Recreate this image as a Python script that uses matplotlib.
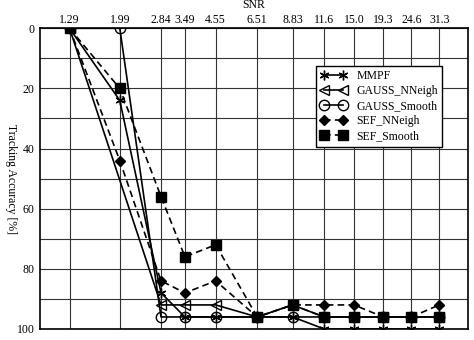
import numpy as np
import matplotlib.pyplot as plt

plt.rcParams['font.family'] = ['Liberation Serif', 'DejaVu Serif']

snr = [1.29, 1.99, 2.84, 3.49, 4.55, 6.51, 8.83, 11.6, 15.0, 19.3, 24.6, 31.3]
snr_labels = ['1.29', '1.99', '2.84', '3.49', '4.55', '6.51', '8.83',
              '11.6', '15.0', '19.3', '24.6', '31.3']

mmpf = [0, 24, 88, 96, 96, 96, 96, 100, 100, 100, 100, 100]
gauss_nneigh = [0, np.nan, 92, 92, 92, 96, 92, 96, 96, 96, 96, 96]
gauss_smooth = [0, 0, 96, 96, 96, 96, 96, 96, 96, 96, 96, 96]
sef_nneigh = [0, 44, 84, 88, 84, 96, 92, 92, 92, 96, 96, 92]
sef_smooth = [0, 20, 56, 76, 72, 96, 92, 96, 96, 96, 96, 96]

series = [
    ("MMPF", mmpf, dict(ls='-', marker=(6, 2, 0), ms=7, mfc='k')),
    ("GAUSS_NNeigh", gauss_nneigh, dict(ls='-', marker='<', ms=6.5, mfc='none')),
    ("GAUSS_Smooth", gauss_smooth, dict(ls='-', marker='o', ms=7.5, mfc='none')),
    ("SEF_NNeigh", sef_nneigh, dict(ls=(0, (4, 2.5)), marker='D', ms=5.5, mfc='k')),
    ("SEF_Smooth", sef_smooth, dict(ls=(0, (4, 2.5)), marker='s', ms=6.5, mfc='k')),
]

fig = plt.figure(figsize=(4.74, 3.40), dpi=100)
ax = fig.add_axes([0.0844, 0.0324, 0.9030, 0.8844])

x = np.array(snr)
for name, vals, style in series:
    y = np.array(vals, dtype=float)
    ok = ~np.isnan(y)
    ax.plot(x[ok], y[ok], color='k', lw=1.2, mec='k', mew=1.0,
            label=name, **style)

ax.set_xscale('log')
ax.set_xlim(1.0, 40.1)
ax.set_ylim(100, 0)
ax.set_xticks(snr)
ax.set_xticklabels(snr_labels)
ax.xaxis.set_minor_locator(plt.NullLocator())
ax.set_yticks(np.arange(0, 101, 20))
ax.set_yticks(np.arange(0, 101, 10), minor=True)
ax.xaxis.tick_top()
ax.xaxis.set_label_position('top')
ax.tick_params(which='both', length=0, labelsize=8.5)
ax.tick_params(axis='x', pad=2)
ax.tick_params(axis='y', pad=4)
ax.grid(True, which='both', color='#333333', lw=0.8)
for sp in ax.spines.values():
    sp.set_linewidth(1.2)

ax.set_xlabel("SNR", fontsize=8.5, va='center')
ax.xaxis.set_label_coords(0.5, 1.078)
ax.set_ylabel("Tracking Accuracy [%]", fontsize=8.5, rotation=270,
              va='center', ha='center')
ax.yaxis.set_label_coords(-0.067, 0.5)

leg = ax.legend(loc='upper right', bbox_to_anchor=(0.954, 0.895), fontsize=8.5,
                numpoints=2, handlelength=2.2, fancybox=False, framealpha=1,
                edgecolor='k', borderpad=0.4, labelspacing=0.25)
leg.get_frame().set_linewidth(1.0)

fig.savefig("out.png", dpi=100)
